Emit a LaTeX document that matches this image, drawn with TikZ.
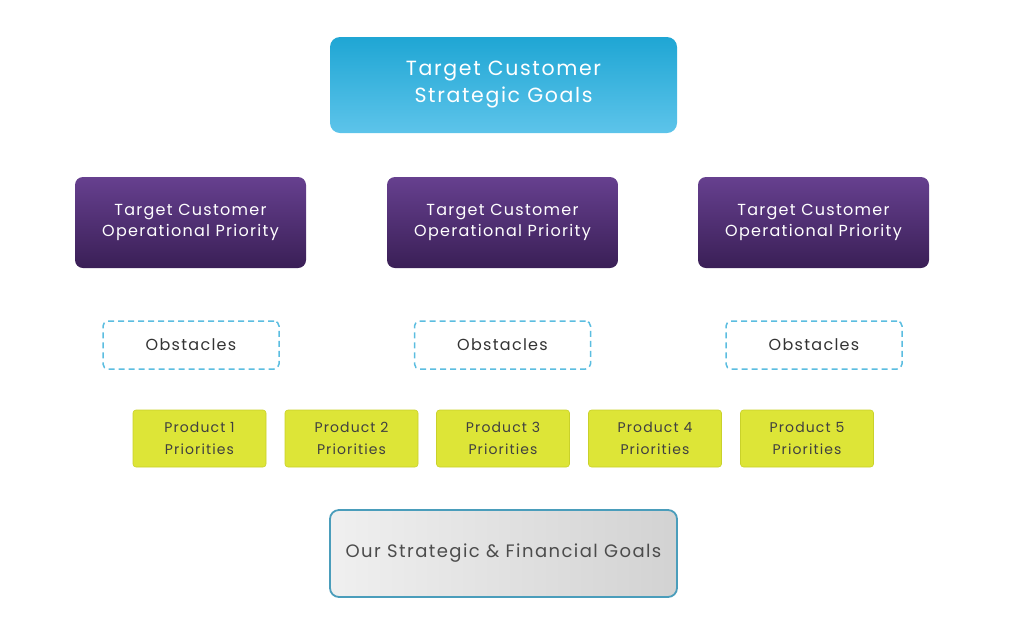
\documentclass[tikz,border=0pt]{standalone}
\usepackage{fontspec}
\setmainfont{Poppins}[LetterSpace=8]
\begin{document}
\begin{tikzpicture}[x=1pt,y=-1pt,
  top/.style={rounded corners=10pt,top color=cyanA,bottom color=cyanB,draw=none,text=white,font=\fontsize{20.5}{27}\selectfont,align=center,inner sep=0},
  purp/.style={rounded corners=8pt,top color=purA,bottom color=purB,draw=none,text=white,font=\fontsize{16}{21}\selectfont,align=center,inner sep=0},
  obs/.style={rounded corners=5pt,draw=dashc,line width=1.5pt,dash pattern=on 6pt off 4pt,text=black!80,font=\fontsize{16}{18}\selectfont,inner sep=0},
  prod/.style={rounded corners=3pt,fill=yel,draw=yelD,line width=0.6pt,text=black!75,font=\fontsize{14}{22}\selectfont,align=center,inner sep=0},
  bot/.style={rounded corners=9pt,left color=gray!12,right color=gray!35,draw=cyanB!80!black,line width=1.8pt,text=black!70,font=\fontsize{18}{20}\selectfont,inner sep=0}]
\definecolor{cyanA}{HTML}{1FA6D4}
\definecolor{cyanB}{HTML}{5DC4EA}
\definecolor{purA}{HTML}{66408F}
\definecolor{purB}{HTML}{3A1F56}
\definecolor{dashc}{HTML}{5BBDE0}
\definecolor{yel}{HTML}{DDE537}
\definecolor{yelD}{HTML}{C9D12A}
\useasboundingbox (0,0) rectangle (1024,625);
\node[top,minimum width=347pt,minimum height=96pt] (t) at (503.5,85) {Target Customer\\Strategic Goals};
\node[purp,minimum width=231pt,minimum height=91pt] (p1) at (190.5,222.5) {Target Customer\\Operational Priority};
\node[purp,minimum width=231pt,minimum height=91pt] (p2) at (502.5,222.5) {Target Customer\\Operational Priority};
\node[purp,minimum width=231pt,minimum height=91pt] (p3) at (813.5,222.5) {Target Customer\\Operational Priority};
\node[obs,minimum width=176pt,minimum height=48pt] (o1) at (191,345) {Obstacles};
\node[obs,minimum width=176pt,minimum height=48pt] (o2) at (502.5,345) {Obstacles};
\node[obs,minimum width=176pt,minimum height=48pt] (o3) at (814,345) {Obstacles};
\foreach \i/\x in {1/199.5,2/351.5,3/503,4/655,5/807}
  \node[prod,minimum width=133pt,minimum height=57pt] (pr\i) at (\x,438.5) {Product \i\\Priorities};
\node[bot,minimum width=347pt,minimum height=87pt] (b) at (503.5,553.5) {Our Strategic \& Financial Goals};
\end{tikzpicture}
\end{document}
